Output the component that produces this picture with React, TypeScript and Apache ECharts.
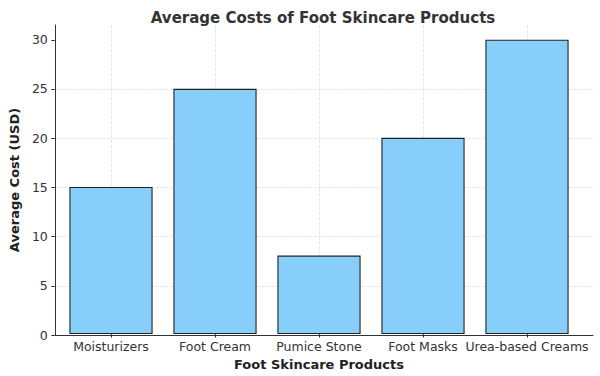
import React, { useEffect, useRef } from "react";
import * as echarts from "echarts";

const categories = ["Moisturizers", "Foot Cream", "Pumice Stone", "Foot Masks", "Urea-based Creams"];
const costs = [15, 25, 8, 20, 30];
const yTicks = [0, 5, 10, 15, 20, 25, 30];

const FONT = "DejaVu Sans";

export default function App() {
  const ref = useRef<HTMLDivElement>(null);
  useEffect(() => {
    if (!ref.current) return;
    const chart = echarts.init(ref.current, null, { renderer: "svg" });
    const grid = "#dedede";
    const top = 25;
    const bottom = 41;
    chart.setOption({
      animation: false,
      title: {
        text: "Average Costs of Foot Skincare Products",
        left: 318,
        textAlign: "center",
        top: 5,
        textStyle: { fontFamily: FONT, fontSize: 15, fontWeight: "bold", color: "#333" },
      },
      grid: [
        { left: 44, right: 7, top, bottom },
        { left: 59, right: 21, top, bottom },
        { left: 111, right: 73, top, bottom },
      ],
      xAxis: [
        {
          gridIndex: 0,
          type: "value",
          min: 0,
          max: 1,
          axisLine: { show: true, lineStyle: { color: "#333", width: 1 } },
          axisTick: { show: false },
          axisLabel: { show: false },
          splitLine: { show: false },
        },
        {
          gridIndex: 1,
          type: "category",
          data: categories,
          name: "Foot Skincare Products",
          nameLocation: "middle",
          nameGap: 18,
          nameTextStyle: { fontFamily: FONT, fontSize: 13, fontWeight: "bold", color: "#222" },
          axisLine: { show: false },
          axisTick: { show: true, alignWithLabel: true, length: 3.5, lineStyle: { color: "#333" } },
          axisLabel: { fontFamily: FONT, fontSize: 12.5, color: "#333", margin: 6, interval: 0 },
          splitLine: { show: false },
        },
        {
          gridIndex: 2,
          type: "value",
          min: 0,
          max: categories.length - 1,
          interval: 1,
          axisLine: { show: false },
          axisTick: { show: false },
          axisLabel: { show: false },
          splitLine: { show: true, lineStyle: { color: grid, type: "dashed", width: 0.8 } },
        },
      ],
      yAxis: [
        {
          gridIndex: 0,
          type: "value",
          min: 0,
          max: 31.5,
          interval: 5,
          name: "Average Cost (USD)",
          nameLocation: "middle",
          nameGap: 23,
          nameTextStyle: { fontFamily: FONT, fontSize: 13, fontWeight: "bold", color: "#222" },
          axisLine: { show: true, lineStyle: { color: "#333", width: 1 } },
          axisTick: { show: true, customValues: yTicks, length: 3.5, lineStyle: { color: "#333" } },
          axisLabel: { customValues: yTicks, fontFamily: FONT, fontSize: 12.5, color: "#333", margin: 7 },
          splitLine: {
            show: true,
            showMaxLine: false,
            showMinLine: false,
            lineStyle: { color: grid, type: "dashed", width: 0.8 },
          },
        },
        {
          gridIndex: 1,
          type: "value",
          min: 0,
          max: 31.5,
          show: false,
        },
        {
          gridIndex: 2,
          type: "value",
          min: 0,
          max: 31.5,
          show: false,
        },
      ],
      series: [
        {
          type: "bar",
          xAxisIndex: 1,
          yAxisIndex: 1,
          data: costs,
          barWidth: "80%",
          itemStyle: { color: "#87CEFA", borderColor: "#222", borderWidth: 1.1 },
        },
      ],
    });
    return () => chart.dispose();
  }, []);
  return <div ref={ref} style={{ width: 600, height: 376, position: "absolute", left: 0, top: 0 }} />;
}
